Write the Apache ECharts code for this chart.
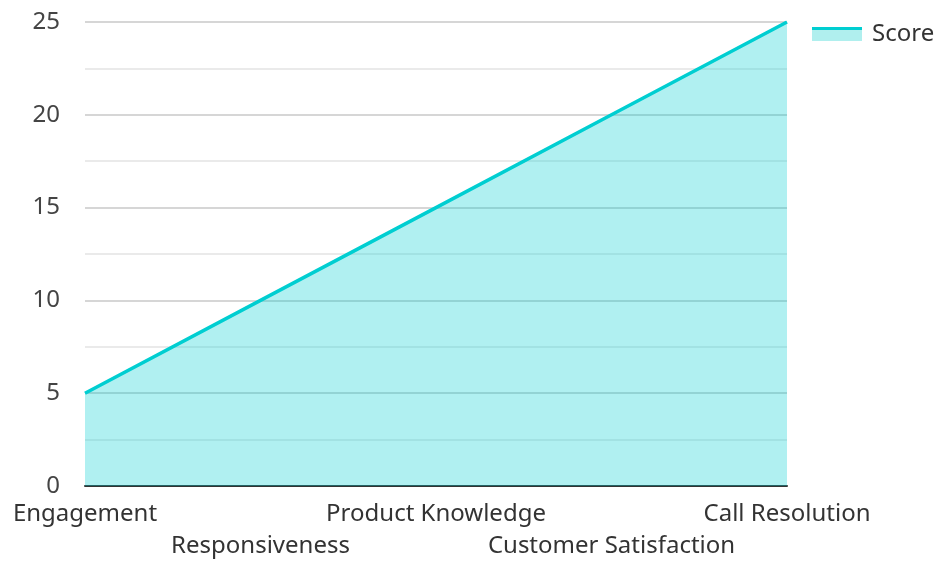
<!DOCTYPE html>
<html lang="en" style="height: 100%">
<head>
  <meta charset="utf-8">
  <script type="text/javascript" src="https://cdn.jsdelivr.net/npm/echarts@6/dist/echarts.min.js"></script>
</head>
<body style="height: 100%; margin: 0">
  <div id="chart" style="height: 562px; width: 937px"></div>
  <script type="text/javascript">
    var categories = ['Engagement', 'Responsiveness', 'Product Knowledge', 'Customer Satisfaction', 'Call Resolution'];
    var scores = [5, 10, 15, 20, 25];
    var seriesName = 'Score';

    var chart = echarts.init(document.getElementById('chart'));
    var font = '"Noto Sans", sans-serif';
    var lineColor = '#00CED1';
    var fillColor = '#b0efee';

    var option = {
      animation: false,
      textStyle: { fontFamily: font },
      grid: { left: 85, right: 150, top: 22, bottom: 72, containLabel: false },
      legend: {
        data: [{
          name: seriesName,
          icon: 'rect',
          itemStyle: {
            color: new echarts.graphic.LinearGradient(0, 0, 0, 1, [
              { offset: 0, color: lineColor },
              { offset: 0.24, color: lineColor },
              { offset: 0.25, color: fillColor },
              { offset: 1, color: fillColor }
            ])
          }
        }],
        left: 807,
        top: 17,
        itemWidth: 50,
        itemHeight: 14,
        itemGap: 10,
        textStyle: { fontSize: 24, color: '#333', fontFamily: font, padding: [0, 0, 0, 5] }
      },
      xAxis: {
        type: 'category',
        data: categories,
        boundaryGap: false,
        axisLine: { lineStyle: { color: '#333', width: 2 } },
        axisTick: { show: false },
        axisLabel: {
          interval: 0,
          hideOverlap: false,
          fontSize: 24,
          color: '#333',
          lineHeight: 32,
          margin: 12,
          formatter: function (v, i) { return i % 2 ? '\n' + v : v; }
        }
      },
      yAxis: {
        type: 'value',
        min: 0,
        max: 25,
        interval: 5,
        axisLine: { show: false },
        axisTick: { show: false },
        axisLabel: { fontSize: 24, color: '#444', margin: 25 },
        splitLine: { lineStyle: { color: '#c8c8c8', width: 1.5 } },
        minorTick: { show: false, splitNumber: 2 },
        minorSplitLine: { show: true, lineStyle: { color: '#e4e4e4', width: 1.5 } }
      },
      series: [{
        name: seriesName,
        type: 'line',
        data: scores,
        symbol: 'none',
        lineStyle: { color: lineColor, width: 3.5 },
        itemStyle: { color: lineColor },
        areaStyle: { color: lineColor, opacity: 0.31 }
      }]
    };
    chart.setOption(option);
  </script>
</body>
</html>
